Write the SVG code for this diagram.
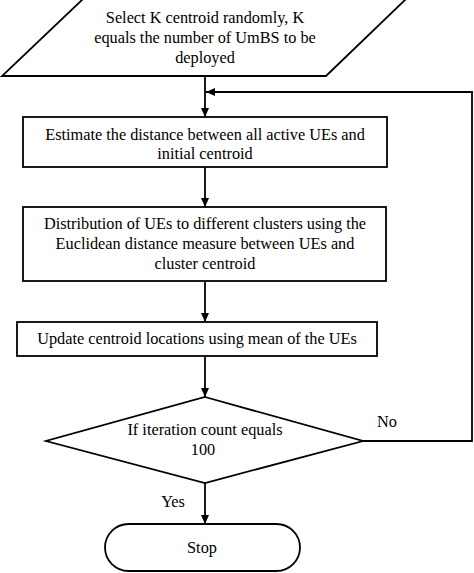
<svg xmlns="http://www.w3.org/2000/svg" width="474" height="573" viewBox="0 0 474 573">
<style>
.s{fill:#fff;stroke:#000;stroke-width:1.8}
.c{fill:none;stroke:#000;stroke-width:1.8}
text{font-family:"Liberation Serif","Times New Roman",serif;font-size:16.3px;fill:#000;text-anchor:middle}
</style>
<defs>
<marker id="ah" markerWidth="10" markerHeight="10" refX="9" refY="5" orient="auto" markerUnits="userSpaceOnUse">
<path d="M0,1 L9,5 L0,9 Z" fill="#000"/>
</marker>
</defs>
<rect width="474" height="573" fill="#fff"/>
<g id="connectors">
<line class="c" x1="205" y1="76" x2="205" y2="117" marker-end="url(#ah)"/>
<line class="c" x1="205" y1="167" x2="205" y2="207" marker-end="url(#ah)"/>
<line class="c" x1="205" y1="281" x2="205" y2="322" marker-end="url(#ah)"/>
<line class="c" x1="205" y1="356" x2="205" y2="397" marker-end="url(#ah)"/>
<line class="c" x1="205" y1="483" x2="205" y2="524" marker-end="url(#ah)"/>
<polyline class="c" points="363,441 472,441 472,92 206,92" marker-end="url(#ah)"/>
<text x="387" y="427">No</text>
<text x="173" y="507">Yes</text>
</g>
<g id="start">
<polygon class="s" points="83,-1 406,-1 326,76 2,76"/>
<text x="205" y="23">Select K centroid randomly, K</text>
<text x="205" y="43">equals the number of UmBS to be</text>
<text x="205" y="63">deployed</text>
</g>
<g id="estimate">
<rect class="s" x="23" y="117" width="364" height="50"/>
<text x="205" y="140">Estimate the distance between all active UEs and</text>
<text x="205" y="159">initial centroid</text>
</g>
<g id="distribute">
<rect class="s" x="23" y="207" width="363" height="74"/>
<text x="205" y="229">Distribution of UEs to different clusters using the</text>
<text x="205" y="249">Euclidean distance measure between UEs and</text>
<text x="205" y="269">cluster centroid</text>
</g>
<g id="update">
<rect class="s" x="17" y="322" width="360" height="34"/>
<text x="197" y="344">Update centroid locations using mean of the UEs</text>
</g>
<g id="decision">
<polygon class="s" points="205,397 363,441 205,483 46,441"/>
<text x="205" y="435">If iteration count equals</text>
<text x="203" y="455">100</text>
</g>
<g id="stop">
<rect class="s" x="105" y="524" width="195" height="47" rx="23.5" ry="23.5"/>
<text x="202" y="553">Stop</text>
</g>
</svg>
